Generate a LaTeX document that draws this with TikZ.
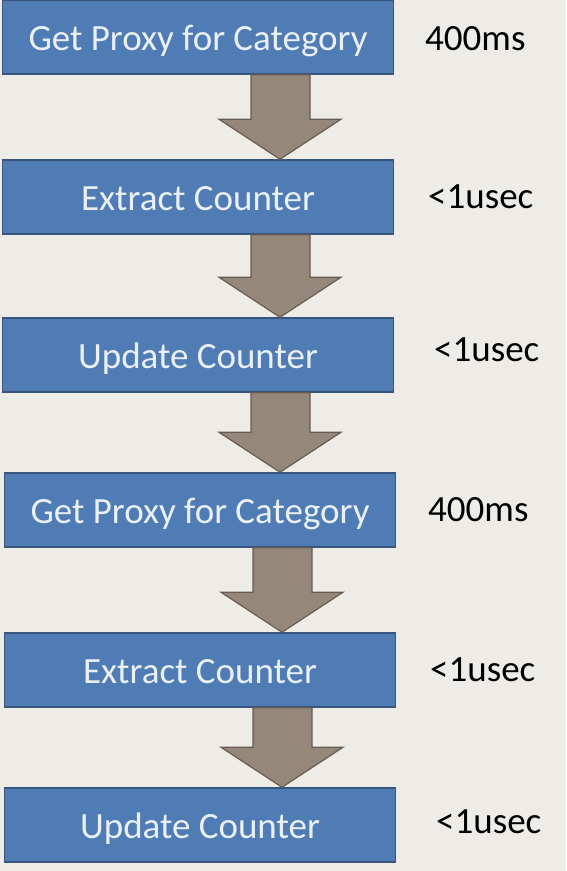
\documentclass[tikz,border=0pt]{standalone}
\usepackage{fontspec}
\setmainfont{Carlito}
\usetikzlibrary{calc}
\definecolor{pagebg}{RGB}{238,236,231}
\definecolor{boxfill}{RGB}{79,124,180}
\definecolor{boxline}{RGB}{56,86,125}
\definecolor{boxtext}{RGB}{234,240,246}
\definecolor{arrowfill}{RGB}{149,135,122}
\definecolor{arrowline}{RGB}{104,92,82}

\begin{document}
\begin{tikzpicture}[x=1pt, y=-1pt,
    stepbox/.style={rectangle, draw=boxline, fill=boxfill, line width=1.5pt,
        minimum width=391pt, minimum height=74pt, inner sep=0pt,
        text=boxtext, font=\fontsize{37}{44}\selectfont,
        text height=26pt, text depth=0pt},
    timelabel/.style={anchor=west, inner sep=0pt, font=\fontsize{37}{44}\selectfont},
    flowarrow/.style={draw=arrowline, fill=arrowfill, line width=1.2pt, line join=miter}]
    \fill[pagebg] (0,0) rectangle (566,871);
    \useasboundingbox (0,0) rectangle (566,871);
    \node[stepbox] (b1) at (198,37) {Get Proxy for Category};
    \node[stepbox] (b2) at (198,197) {Extract Counter};
    \node[stepbox] (b3) at (198,355) {Update Counter};
    \node[stepbox] (b4) at (200,510) {Get Proxy for Category};
    \node[stepbox] (b5) at (200,670) {Extract Counter};
    \node[stepbox] (b6) at (200,825) {Update Counter};
    \node[timelabel] (t1) at (425,39) {400ms};
    \node[timelabel] (t2) at (428,197) {<1usec};
    \node[timelabel] (t3) at (434,350) {<1usec};
    \node[timelabel] (t4) at (428,510) {400ms};
    \node[timelabel] (t5) at (430,670) {<1usec};
    \node[timelabel] (t6) at (436,822) {<1usec};
    % block arrows from box to box
    \foreach \a/\b in {b1/b2, b2/b3, b3/b4, b4/b5, b5/b6}
        \draw[flowarrow] let \p1=(\a.south), \p2=(\b.north) in
            (\x1+53pt,\y1) -- (\x1+112pt,\y1) -- (\x1+112pt,\y2+40pt)
            -- (\x1+143pt,\y2+40pt) -- (\x1+82pt,\y2) -- (\x1+21pt,\y2+40pt)
            -- (\x1+53pt,\y2+40pt) -- cycle;
\end{tikzpicture}
\end{document}
